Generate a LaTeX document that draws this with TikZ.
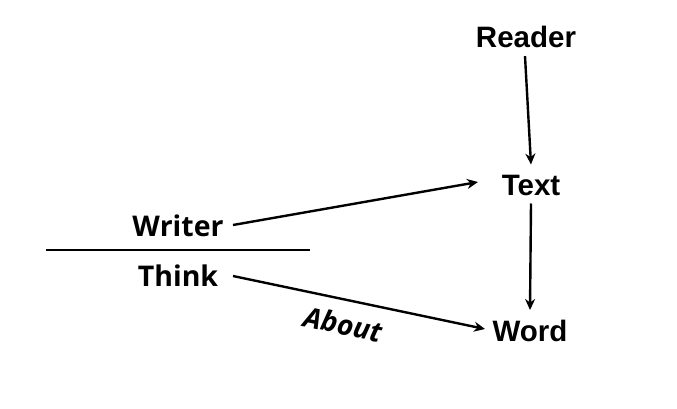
\documentclass[tikz,border=0pt]{standalone}
\usepackage{fontspec}
\setmainfont{Open Sans}
\newfontfamily\labfont{Liberation Sans}
\usetikzlibrary{arrows.meta}
\begin{document}
\begin{tikzpicture}[x=1pt,y=-1pt,
  side/.style={font=\fontsize{28.5}{30}\selectfont\bfseries, inner sep=0pt},
  term/.style={font=\labfont\fontsize{29.5}{30}\selectfont\bfseries, inner sep=0pt},
  arr/.style={line width=2.4pt, -{Stealth[length=11pt,width=10pt]}},
  ln/.style={line width=2.4pt}]
\useasboundingbox (0,0) rectangle (677,408);
\node[term] (reader) at (526,37) {Reader};
\node[term] (text) at (531,185) {Text};
\node[term] (word) at (530,331) {Word};
\node[side] (writer) at (178,226) {Writer};
\node[side] (think) at (178,276) {Think};
\coordinate (l1) at (46,250);
\coordinate (l2) at (310,250);
\draw[ln] (l1) -- (l2);
\coordinate (wa) at (233,225);
\coordinate (wb) at (478,182);
\coordinate (ta) at (233,276);
\coordinate (tb) at (485,329);
\draw[arr] (wa) -- (wb);
\draw[arr] (ta) -- (tb);
\draw[arr] ([xshift=-1pt,yshift=-8pt]reader.south) -- ([yshift=10pt]text.north);
\draw[arr] ([yshift=-8pt]text.south) -- ([yshift=10pt]word.north);
\node[font=\fontsize{28}{30}\selectfont\bfseries\itshape, inner sep=0pt, rotate=-12] (about) at (343,324) {About};
\end{tikzpicture}
\end{document}
